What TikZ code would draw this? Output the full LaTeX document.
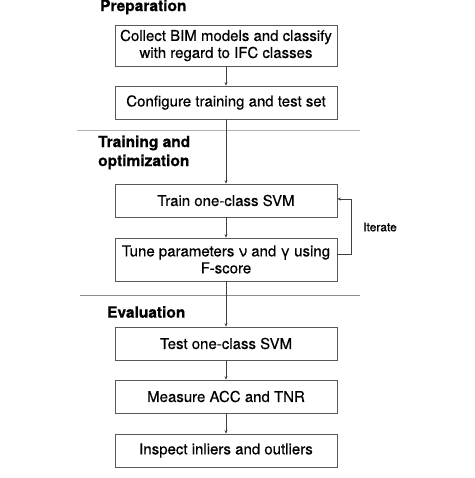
\documentclass[tikz,border=0pt]{standalone}
\usepackage{fontspec}
\setmainfont{TeX Gyre Heros}[FakeBold=0.4]
\newfontfamily\headfont{TeX Gyre Heros}[FakeBold=0.5]
\usetikzlibrary{calc,positioning,arrows.meta}

\begin{document}
\begin{tikzpicture}[x=1pt,y=-1pt,
	stepbox/.style={draw=black!65, line width=0.7pt, minimum width=222pt, minimum height=33pt, inner sep=0pt, align=center, font=\fontsize{15}{17}\selectfont},
	phase/.style={anchor=west, inner sep=0pt, align=left, font=\fontsize{15.5}{19}\headfont\bfseries},
	flow/.style={-{Stealth[length=3.5pt,width=3pt]}, color=black!75, line width=0.5pt}]
\useasboundingbox (0,0) rectangle (474,478);
\node[stepbox, minimum height=41pt] (collect) at (226,45.5) {Collect BIM models and classify\\with regard to IFC classes};
\node[stepbox] (config) at (226,102.5) {Configure training and test set};
\node[stepbox] (train) at (226,200.5) {Train one-class SVM};
\node[stepbox, minimum height=43pt] (tune) at (226,259.5) {Tune parameters ν and γ using\\F-score};
\node[stepbox] (test) at (226,343.5) {Test one-class SVM};
\node[stepbox] (measure) at (226,396.5) {Measure ACC and TNR};
\node[stepbox] (inspect) at (226,450.5) {Inspect inliers and outliers};
\node[phase] (prep) at (100,7) {Preparation};
\node[phase, align=left] (trainopt) at (98,152.5) {Training and\\optimization};
\node[phase] (eval) at (107,312) {Evaluation};
\node[font=\fontsize{12}{14}\selectfont, inner sep=0pt] (iter) at (380,227) {Iterate};
\draw[black!30, line width=0.7pt] (77,130) -- (360,130);
\draw[black!45, line width=0.7pt] (80,295) -- (360,295);
\draw[flow] (collect) -- (config);
\draw[flow] (config) -- (train);
\draw[flow] (train) -- (tune);
\draw[flow] (tune) -- (test);
\draw[flow] (test) -- (measure);
\draw[flow] (measure) -- (inspect);
\draw[flow] ([yshift=5pt]tune.east) -- ++(14,0) |- ([yshift=1.5pt]train.east);
\end{tikzpicture}
\end{document}
